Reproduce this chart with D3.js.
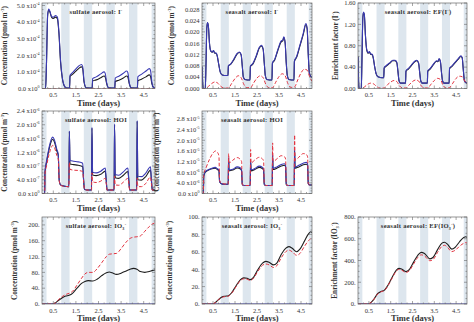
<!DOCTYPE html>
<html>
<head>
<meta charset="utf-8">
<script src="https://cdn.jsdelivr.net/npm/d3@7"></script>
<style>
  body { margin: 0; background: #fff; }
  svg { display: block; }
  text { font-family: "Liberation Serif", "DejaVu Serif", serif; fill: #333; }
</style>
</head>
<body>
<svg id="chart" width="474" height="322"></svg>
<script>
// night periods (shaded) and x labels, shared by all panels
const nights = [[0, 0.2], [0.85, 1.22], [1.85, 2.22], [2.85, 3.22], [3.85, 4.22], [4.85, 5]];
const dayTicks = [0.5, 1.5, 2.5, 3.5, 4.5];

// --- sulfate aerosol: I- (pmol m-3)
const sulfI_black = [[0,0],[0.16,0],[0.2,1.6e-4],[0.25,4.4e-4],[0.3,4.72e-4],[0.35,4.6e-4],[0.42,4.3e-4],[0.5,4.22e-4],[0.6,4.3e-4],[0.68,4.2e-4],[0.75,3.3e-4],[0.82,1.6e-4],[0.9,0.6e-4],[1.0,0.12e-4],[1.1,0.02e-4],[1.22,0.02e-4],[1.24,0.72e-4],[1.35,0.85e-4],[1.5,1.05e-4],[1.62,1.2e-4],[1.75,1.3e-4],[1.8,1.2e-4],[1.86,0.4e-4],[1.95,0.05e-4],[2.22,0.02e-4],[2.24,0.45e-4],[2.4,0.52e-4],[2.6,0.65e-4],[2.75,0.75e-4],[2.8,0.68e-4],[2.86,0.3e-4],[2.95,0.04e-4],[3.22,0.02e-4],[3.24,0.42e-4],[3.4,0.5e-4],[3.6,0.63e-4],[3.75,0.75e-4],[3.8,0.68e-4],[3.86,0.3e-4],[3.95,0.04e-4],[4.22,0.02e-4],[4.24,0.46e-4],[4.4,0.56e-4],[4.6,0.7e-4],[4.75,0.82e-4],[4.8,0.74e-4],[4.86,0.3e-4],[4.95,0.04e-4],[5.0,0.02e-4]];
const sulfI_blue = [[0,0],[0.16,0],[0.2,1.6e-4],[0.25,4.45e-4],[0.3,4.78e-4],[0.35,4.65e-4],[0.42,4.35e-4],[0.5,4.3e-4],[0.6,4.4e-4],[0.68,4.3e-4],[0.75,3.4e-4],[0.82,1.7e-4],[0.9,0.65e-4],[1.0,0.14e-4],[1.1,0.02e-4],[1.22,0.02e-4],[1.24,0.8e-4],[1.35,0.95e-4],[1.5,1.18e-4],[1.62,1.35e-4],[1.75,1.45e-4],[1.8,1.32e-4],[1.86,0.45e-4],[1.95,0.05e-4],[2.22,0.02e-4],[2.24,0.6e-4],[2.4,0.7e-4],[2.6,0.88e-4],[2.75,1.0e-4],[2.8,0.9e-4],[2.86,0.35e-4],[2.95,0.04e-4],[3.22,0.02e-4],[3.24,0.62e-4],[3.4,0.74e-4],[3.6,0.92e-4],[3.75,1.05e-4],[3.8,0.95e-4],[3.86,0.35e-4],[3.95,0.04e-4],[4.22,0.02e-4],[4.24,0.7e-4],[4.4,0.85e-4],[4.6,1.05e-4],[4.75,1.2e-4],[4.8,1.1e-4],[4.86,0.4e-4],[4.95,0.04e-4],[5.0,0.02e-4]];
const sulfI_red = [[0,0],[5,0]];

// --- seasalt aerosol: I- (pmol m-3)
const ssI_black = [[0,0.0078],[0.03,0.002],[0.05,0],[0.15,0],[0.18,0.008],[0.22,0.0215],[0.25,0.0232],[0.29,0.022],[0.34,0.016],[0.4,0.0132],[0.47,0.0128],[0.52,0.0133],[0.58,0.0125],[0.65,0.0124],[0.7,0.0112],[0.76,0.0085],[0.83,0.0058],[0.92,0.0048],[1.1,0.0046],[1.18,0.0046],[1.2,0.008],[1.3,0.0085],[1.45,0.0102],[1.6,0.0122],[1.7,0.0127],[1.78,0.0118],[1.83,0.008],[1.88,0.004],[1.95,0.0032],[2.18,0.003],[2.2,0.0078],[2.3,0.0085],[2.45,0.011],[2.6,0.0142],[2.7,0.015],[2.78,0.0138],[2.83,0.009],[2.88,0.0045],[2.95,0.0032],[3.18,0.003],[3.2,0.0088],[3.3,0.01],[3.45,0.0135],[3.6,0.0165],[3.67,0.0168],[3.72,0.018],[3.78,0.016],[3.83,0.009],[3.88,0.0045],[3.95,0.0032],[4.18,0.003],[4.2,0.0095],[4.3,0.011],[4.45,0.015],[4.6,0.019],[4.72,0.0225],[4.78,0.021],[4.83,0.012],[4.88,0.0055],[4.95,0.0042],[5,0.004]];
const ssI_blue = [[0,0.0078],[0.03,0.002],[0.05,0],[0.15,0],[0.18,0.008],[0.22,0.0215],[0.25,0.0233],[0.29,0.0221],[0.34,0.016],[0.4,0.0133],[0.47,0.0129],[0.52,0.0134],[0.58,0.0126],[0.65,0.0125],[0.7,0.0113],[0.76,0.0086],[0.83,0.0058],[0.92,0.0048],[1.1,0.0046],[1.18,0.0046],[1.2,0.0081],[1.3,0.0086],[1.45,0.0104],[1.6,0.0124],[1.7,0.0129],[1.78,0.012],[1.83,0.008],[1.88,0.004],[1.95,0.0032],[2.18,0.003],[2.2,0.0079],[2.3,0.0087],[2.45,0.0112],[2.6,0.0145],[2.7,0.0153],[2.78,0.014],[2.83,0.009],[2.88,0.0045],[2.95,0.0032],[3.18,0.003],[3.2,0.009],[3.3,0.0102],[3.45,0.0138],[3.6,0.0168],[3.67,0.0171],[3.72,0.0183],[3.78,0.0162],[3.83,0.009],[3.88,0.0045],[3.95,0.0032],[4.18,0.003],[4.2,0.0097],[4.3,0.0113],[4.45,0.0153],[4.6,0.0194],[4.72,0.0229],[4.78,0.0213],[4.83,0.012],[4.88,0.0055],[4.95,0.0042],[5,0.004]];
const ssI_red = [[0,0],[0.15,0],[0.3,0.0008],[0.45,0.0018],[0.58,0.0023],[0.7,0.002],[0.85,0.0008],[1.0,0.0001],[1.2,0.0002],[1.35,0.0018],[1.5,0.0035],[1.65,0.0045],[1.78,0.0038],[1.9,0.0015],[2.05,0.0003],[2.2,0.0003],[2.35,0.002],[2.5,0.0037],[2.65,0.0045],[2.78,0.0038],[2.9,0.0015],[3.05,0.0003],[3.2,0.0003],[3.35,0.0022],[3.5,0.0042],[3.65,0.0052],[3.78,0.0045],[3.9,0.0018],[4.05,0.0004],[4.2,0.0005],[4.35,0.003],[4.5,0.0055],[4.65,0.0068],[4.78,0.0065],[4.9,0.004],[5,0.0025]];

// --- seasalt aerosol: EF(I-)
const efI_black = [[0,0.6],[0.03,0.1],[0.05,0],[0.15,0],[0.18,0.5],[0.22,1.3],[0.25,1.42],[0.29,1.38],[0.34,1.0],[0.4,0.72],[0.47,0.66],[0.52,0.68],[0.58,0.64],[0.65,0.63],[0.7,0.57],[0.76,0.42],[0.83,0.28],[0.92,0.22],[1.1,0.2],[1.18,0.2],[1.2,0.38],[1.3,0.42],[1.45,0.47],[1.6,0.52],[1.7,0.52],[1.78,0.48],[1.83,0.33],[1.88,0.15],[1.95,0.1],[2.18,0.1],[2.2,0.32],[2.3,0.36],[2.45,0.43],[2.6,0.5],[2.7,0.52],[2.78,0.47],[2.83,0.3],[2.88,0.14],[2.95,0.1],[3.18,0.1],[3.2,0.32],[3.3,0.36],[3.45,0.44],[3.6,0.51],[3.67,0.5],[3.72,0.55],[3.78,0.5],[3.83,0.3],[3.88,0.14],[3.95,0.1],[4.18,0.1],[4.2,0.37],[4.3,0.41],[4.45,0.48],[4.6,0.55],[4.72,0.6],[4.78,0.57],[4.83,0.35],[4.88,0.15],[4.95,0.11],[5,0.1]];
const efI_blue = [[0,0.6],[0.03,0.1],[0.05,0],[0.15,0],[0.18,0.5],[0.22,1.3],[0.25,1.43],[0.29,1.39],[0.34,1.0],[0.4,0.73],[0.47,0.67],[0.52,0.69],[0.58,0.65],[0.65,0.64],[0.7,0.58],[0.76,0.42],[0.83,0.28],[0.92,0.22],[1.1,0.2],[1.18,0.2],[1.2,0.39],[1.3,0.43],[1.45,0.48],[1.6,0.53],[1.7,0.53],[1.78,0.49],[1.83,0.33],[1.88,0.15],[1.95,0.1],[2.18,0.1],[2.2,0.33],[2.3,0.37],[2.45,0.44],[2.6,0.51],[2.7,0.53],[2.78,0.48],[2.83,0.3],[2.88,0.14],[2.95,0.1],[3.18,0.1],[3.2,0.33],[3.3,0.37],[3.45,0.45],[3.6,0.52],[3.67,0.51],[3.72,0.56],[3.78,0.51],[3.83,0.3],[3.88,0.14],[3.95,0.1],[4.18,0.1],[4.2,0.38],[4.3,0.42],[4.45,0.49],[4.6,0.56],[4.72,0.61],[4.78,0.58],[4.83,0.35],[4.88,0.15],[4.95,0.11],[5,0.1]];
const efI_red = [[0,0],[0.15,0],[0.3,0.03],[0.45,0.08],[0.58,0.1],[0.7,0.09],[0.85,0.04],[1.0,0.005],[1.2,0.01],[1.35,0.07],[1.5,0.12],[1.65,0.15],[1.78,0.13],[1.9,0.05],[2.05,0.01],[2.2,0.01],[2.35,0.07],[2.5,0.13],[2.65,0.16],[2.78,0.14],[2.9,0.05],[3.05,0.01],[3.2,0.01],[3.35,0.08],[3.5,0.15],[3.65,0.19],[3.78,0.17],[3.9,0.06],[4.05,0.01],[4.2,0.02],[4.35,0.1],[4.5,0.19],[4.65,0.23],[4.78,0.22],[4.9,0.14],[5,0.09]];

// --- sulfate aerosol: HOI (pmol m-3)
const sulfHOI_black = [[0,0],[0.12,0],[0.13,6e-7],[0.2,9e-7],[0.3,12.5e-7],[0.4,15e-7],[0.47,15.8e-7],[0.55,15e-7],[0.65,12.5e-7],[0.72,11e-7],[0.76,4e-7],[0.82,2.5e-7],[0.95,2.2e-7],[1.19,2e-7],[1.21,18e-7],[1.24,8.6e-7],[1.4,8.4e-7],[1.6,8.2e-7],[1.8,7.8e-7],[1.84,4e-7],[1.88,1.2e-7],[2.0,1e-7],[2.19,1e-7],[2.21,19e-7],[2.24,5.4e-7],[2.4,5.2e-7],[2.6,5.6e-7],[2.8,6.5e-7],[2.84,4e-7],[2.88,1e-7],[3.19,1e-7],[3.21,20e-7],[3.24,4.6e-7],[3.4,4.4e-7],[3.6,5.3e-7],[3.8,6.4e-7],[3.84,4e-7],[3.88,1e-7],[4.19,1e-7],[4.21,21e-7],[4.24,4e-7],[4.4,3.9e-7],[4.6,5e-7],[4.8,6.8e-7],[4.84,4e-7],[4.88,1e-7],[5,1e-7]];
const sulfHOI_blue = [[0,0],[0.12,0],[0.13,6.3e-7],[0.2,9.4e-7],[0.3,13e-7],[0.4,15.6e-7],[0.47,16.4e-7],[0.55,15.6e-7],[0.65,13e-7],[0.72,11.4e-7],[0.76,4e-7],[0.82,2.5e-7],[0.95,2.2e-7],[1.19,2e-7],[1.21,18.2e-7],[1.24,9.6e-7],[1.4,9.4e-7],[1.6,9.2e-7],[1.8,8.8e-7],[1.84,4e-7],[1.88,1.2e-7],[2.0,1e-7],[2.19,1e-7],[2.21,19.2e-7],[2.24,6.2e-7],[2.4,6e-7],[2.6,6.5e-7],[2.8,7.4e-7],[2.84,4e-7],[2.88,1e-7],[3.19,1e-7],[3.21,20.2e-7],[3.24,5.5e-7],[3.4,5.3e-7],[3.6,6.3e-7],[3.8,7.4e-7],[3.84,4e-7],[3.88,1e-7],[4.19,1e-7],[4.21,21.2e-7],[4.24,5e-7],[4.4,4.9e-7],[4.6,6e-7],[4.8,7.8e-7],[4.84,4e-7],[4.88,1e-7],[5,1e-7]];
const sulfHOI_red = [[0,0],[0.12,0],[0.13,5.5e-7],[0.2,8e-7],[0.3,11e-7],[0.4,13.2e-7],[0.47,14e-7],[0.55,13.4e-7],[0.65,11.2e-7],[0.72,10e-7],[0.76,3.8e-7],[0.82,2.4e-7],[0.95,2.1e-7],[1.19,2e-7],[1.21,9e-7],[1.24,7e-7],[1.4,6.8e-7],[1.6,6.7e-7],[1.8,6.4e-7],[1.84,3.5e-7],[1.88,1.2e-7],[2.0,1e-7],[2.19,1e-7],[2.21,6e-7],[2.24,3.4e-7],[2.4,3.2e-7],[2.6,3.6e-7],[2.8,4.4e-7],[2.84,3e-7],[2.88,1e-7],[3.19,1e-7],[3.21,5e-7],[3.24,2.5e-7],[3.4,2.4e-7],[3.6,3.3e-7],[3.8,4.4e-7],[3.84,3e-7],[3.88,1e-7],[4.19,1e-7],[4.21,4.5e-7],[4.24,2e-7],[4.4,2e-7],[4.6,3e-7],[4.8,4.8e-7],[4.84,3e-7],[4.88,1e-7],[5,1e-7]];

// --- seasalt aerosol: HOI (pmol m-3)
const ssHOI_black = [[0,0],[0.06,0],[0.08,6.5e-6],[0.15,8e-6],[0.3,8.8e-6],[0.45,9.3e-6],[0.6,9.5e-6],[0.7,9e-6],[0.77,8.5e-6],[0.8,4.5e-6],[0.86,3.8e-6],[1.0,3.5e-6],[1.19,3.5e-6],[1.21,13e-6],[1.23,8.5e-6],[1.4,8.8e-6],[1.6,9.6e-6],[1.75,9.2e-6],[1.8,8.5e-6],[1.83,3.5e-6],[1.9,3e-6],[2.19,3e-6],[2.21,12e-6],[2.23,8.5e-6],[2.4,9e-6],[2.6,9.8e-6],[2.75,9.3e-6],[2.8,8.8e-6],[2.83,3.5e-6],[2.9,3e-6],[3.19,3e-6],[3.21,14e-6],[3.23,9e-6],[3.4,9.5e-6],[3.6,10.3e-6],[3.75,10.6e-6],[3.8,10e-6],[3.83,3.5e-6],[3.9,3e-6],[4.19,3e-6],[4.21,16e-6],[4.23,9.5e-6],[4.4,10e-6],[4.6,10.8e-6],[4.75,11e-6],[4.8,10.5e-6],[4.83,3.8e-6],[4.9,3.2e-6],[5,3.2e-6]];
const ssHOI_blue = [[0,0],[0.06,0],[0.08,6.6e-6],[0.15,8.2e-6],[0.3,9e-6],[0.45,9.5e-6],[0.6,9.8e-6],[0.7,9.3e-6],[0.77,8.8e-6],[0.8,4.5e-6],[0.86,3.8e-6],[1.0,3.5e-6],[1.19,3.5e-6],[1.21,13.5e-6],[1.23,8.8e-6],[1.4,9.1e-6],[1.6,10e-6],[1.75,9.6e-6],[1.8,8.9e-6],[1.83,3.5e-6],[1.9,3e-6],[2.19,3e-6],[2.21,12.5e-6],[2.23,8.9e-6],[2.4,9.4e-6],[2.6,10.3e-6],[2.75,9.8e-6],[2.8,9.2e-6],[2.83,3.5e-6],[2.9,3e-6],[3.19,3e-6],[3.21,14.5e-6],[3.23,9.5e-6],[3.4,10e-6],[3.6,10.9e-6],[3.75,11.2e-6],[3.8,10.6e-6],[3.83,3.5e-6],[3.9,3e-6],[4.19,3e-6],[4.21,16.5e-6],[4.23,10e-6],[4.4,10.6e-6],[4.6,11.4e-6],[4.75,11.7e-6],[4.8,11.1e-6],[4.83,3.8e-6],[4.9,3.2e-6],[5,3.2e-6]];
const ssHOI_red = [[0,0],[0.06,0],[0.08,7e-6],[0.2,10e-6],[0.35,13e-6],[0.5,15.2e-6],[0.62,16e-6],[0.7,15.5e-6],[0.77,14e-6],[0.8,5e-6],[0.86,4e-6],[1.0,3.6e-6],[1.19,3.5e-6],[1.21,15e-6],[1.23,11.5e-6],[1.4,12.5e-6],[1.6,13.5e-6],[1.72,13e-6],[1.8,12e-6],[1.83,3.5e-6],[1.9,3e-6],[2.19,3e-6],[2.21,16.5e-6],[2.23,11.5e-6],[2.4,12.6e-6],[2.6,13.6e-6],[2.72,13.2e-6],[2.8,12.2e-6],[2.83,3.5e-6],[2.9,3e-6],[3.19,3e-6],[3.21,19e-6],[3.23,12e-6],[3.4,13e-6],[3.6,14.2e-6],[3.72,14e-6],[3.8,13e-6],[3.83,3.5e-6],[3.9,3e-6],[4.19,3e-6],[4.21,22e-6],[4.23,12.5e-6],[4.4,13.6e-6],[4.6,15e-6],[4.72,14.8e-6],[4.8,13.8e-6],[4.83,3.8e-6],[4.9,3.2e-6],[5,3.2e-6]];

// --- sulfate aerosol: IO3- (pmol m-3)
const sulfIO3_black = [[0,0],[0.45,0],[0.6,3],[0.75,10],[0.9,16],[1.05,20],[1.2,22],[1.35,27],[1.55,40],[1.75,52],[1.9,57],[2.05,59],[2.25,58],[2.45,63],[2.65,72],[2.85,79],[2.98,81],[3.1,79],[3.3,75],[3.5,78],[3.7,83],[3.9,88],[4.05,90],[4.2,88],[4.35,82],[4.55,80],[4.75,82],[4.9,85],[5,86]];
const sulfIO3_blue = [[0,0],[5,0]];
const sulfIO3_red = [[0,0],[0.45,0],[0.6,3],[0.75,12],[0.9,19],[1.05,24],[1.2,27],[1.35,32],[1.55,48],[1.75,65],[1.9,76],[2.05,80],[2.25,80],[2.45,90],[2.65,105],[2.85,120],[2.98,126],[3.15,127],[3.3,128],[3.5,140],[3.7,155],[3.9,166],[4.05,169],[4.2,170],[4.35,172],[4.55,184],[4.75,196],[4.9,203],[5,205]];

// --- seasalt aerosol: IO3- (pmol m-3)
const ssIO3_black = [[0,0],[0.45,0],[0.6,1.5],[0.75,5],[0.9,8],[1.05,9],[1.2,9.5],[1.35,13],[1.55,21],[1.75,28],[1.9,30],[2.05,29.5],[2.2,28],[2.35,31],[2.55,40],[2.75,47],[2.9,49],[3.05,48],[3.25,45],[3.4,47],[3.6,57],[3.8,64],[3.95,66],[4.1,64],[4.3,60],[4.45,63],[4.65,72],[4.85,81],[4.95,83],[5,82]];
const ssIO3_blue = [[0,0],[5,0]];
const ssIO3_red = [[0,0],[0.45,0],[0.6,1.5],[0.75,5],[0.9,7.5],[1.05,8.5],[1.2,9],[1.35,12.5],[1.55,20],[1.75,27],[1.9,29],[2.05,28.5],[2.2,27],[2.35,30],[2.55,38],[2.75,44.5],[2.9,46],[3.05,45],[3.25,42],[3.4,44],[3.6,53],[3.8,60],[3.95,62],[4.1,60],[4.3,56],[4.45,58],[4.65,66],[4.85,73],[4.95,75],[5,74]];

// --- seasalt aerosol: EF(IO3-)
const efIO3_black = [[0,0],[0.45,0],[0.6,15],[0.75,50],[0.9,95],[1.05,115],[1.2,125],[1.35,165],[1.55,240],[1.75,310],[1.88,328],[2.0,322],[2.2,298],[2.35,315],[2.55,385],[2.75,450],[2.9,475],[3.05,465],[3.3,415],[3.45,430],[3.65,500],[3.85,560],[3.97,568],[4.1,550],[4.3,505],[4.45,520],[4.65,570],[4.85,612],[4.95,618],[5,612]];
const efIO3_blue = [[0,0],[5,0]];
const efIO3_red = [[0,0],[0.45,0],[0.6,14],[0.75,48],[0.9,92],[1.05,112],[1.2,122],[1.35,160],[1.55,232],[1.75,300],[1.88,318],[2.0,312],[2.2,290],[2.35,305],[2.55,368],[2.75,430],[2.9,452],[3.05,442],[3.3,398],[3.45,410],[3.65,475],[3.85,530],[3.97,540],[4.1,522],[4.3,482],[4.45,493],[4.65,530],[4.85,558],[4.95,565],[5,560]];

// y ticks per panel
const sulfI_ticks = [0, 1e-4, 2e-4, 3e-4, 4e-4, 5e-4];
const ssI_ticks = [0, 0.004, 0.008, 0.012, 0.016, 0.020, 0.024, 0.028];
const efI_ticks = [0, 0.4, 0.8, 1.2, 1.6];
const sulfHOI_ticks = [0, 4e-7, 8e-7, 1.2e-6, 1.6e-6, 2.0e-6, 2.4e-6];
const ssHOI_ticks = [0, 4e-6, 8e-6, 1.2e-5, 1.6e-5, 2.0e-5, 2.4e-5, 2.8e-5];
const sulfIO3_ticks = [0, 40, 80, 120, 160, 200];
const ssIO3_ticks = [0, 20, 40, 60, 80, 100];
const efIO3_ticks = [0, 200, 400, 600, 800];

const cols = [[42, 155], [202, 312], [358, 467]];
const rows = [[3, 88.5], [111, 193.5], [217, 304]];
const colTitleX = [96, 252, 418];
const BLACK = '#1e1e1e', BLUE = '#3a3ab4', RED = '#e2323f', BAND = '#dde6ee';

const sup = s => ({ t: s, sup: true });
const sub = s => ({ t: s, sub: true });
const concLabel = ['Concentration (pmol m', sup('-3'), ')'];

function sciFmt(v) {
  if (v === 0) return ['0.0 x10', sup('0')];
  const e = Math.floor(Math.log10(v) + 1e-9);
  return [(v / Math.pow(10, e)).toFixed(1) + ' x10', sup(String(e))];
}
const dotFmt = v => [v + '.'];

const panels = [
  { c: 0, r: 0, ymax: 5.15e-4, ticks: sulfI_ticks, fmt: sciFmt, ylx: 7, ylabel: concLabel,
    title: ['sulfate aerosol: I', sup('-')], s: [sulfI_black, sulfI_blue, sulfI_red] },
  { c: 1, r: 0, ymax: 0.0302, ticks: ssI_ticks, fmt: v => [v.toFixed(3)], ylx: 174, ylabel: concLabel,
    title: ['seasalt aerosol: I', sup('-')], s: [ssI_black, ssI_blue, ssI_red] },
  { c: 2, r: 0, ymax: 1.6, ticks: efI_ticks, fmt: v => [v.toFixed(2)], ylx: 338, ylabel: ['Enrichment factor (I', sup('-'), ')'],
    title: ['seasalt aerosol: EF(I', sup('-'), ')'], s: [efI_black, efI_blue, efI_red] },
  { c: 0, r: 1, ymax: 2.4e-6, ticks: sulfHOI_ticks, fmt: sciFmt, ylx: 7, ylabel: concLabel,
    title: ['sulfate aerosol: HOI'], s: [sulfHOI_black, sulfHOI_blue, sulfHOI_red] },
  { c: 1, r: 1, ymax: 3.1e-5, ticks: ssHOI_ticks, fmt: sciFmt, ylx: 159, ylabel: concLabel,
    title: ['seasalt aerosol: HOI'], s: [ssHOI_black, ssHOI_blue, ssHOI_red] },
  { c: 0, r: 2, ymax: 220, ticks: sulfIO3_ticks, fmt: dotFmt, ylx: 17, ylabel: concLabel,
    title: ['sulfate aerosol: IO', sub('3'), sup('-')], s: [sulfIO3_black, sulfIO3_blue, sulfIO3_red] },
  { c: 1, r: 2, ymax: 100, ticks: ssIO3_ticks, fmt: dotFmt, ylx: 172, ylabel: concLabel,
    title: ['seasalt aerosol: IO', sub('3'), sup('-')], s: [ssIO3_black, ssIO3_blue, ssIO3_red] },
  { c: 2, r: 2, ymax: 800, ticks: efIO3_ticks, fmt: dotFmt, ylx: 337, ylabel: ['Enrichment factor (IO', sub('3'), sup('-'), ')'],
    title: ['seasalt aerosol: EF(IO', sub('3'), sup('-'), ')'], s: [efIO3_black, efIO3_blue, efIO3_red] }
];

const svg = d3.select('#chart');

// write mixed text with super/subscripts as tspans
function rich(textSel, parts, size) {
  let shift = 0;
  parts.forEach(p => {
    const part = typeof p === 'string' ? { t: p } : p;
    const target = part.sup ? -size * 0.4 : part.sub ? size * 0.25 : 0;
    const ts = textSel.append('tspan').text(part.t).attr('dy', target - shift);
    if (part.sup || part.sub) ts.style('font-size', (size * 0.62) + 'px');
    shift = target;
  });
}

panels.forEach((p, i) => {
  const [x0, x1] = cols[p.c];
  const [y0, y1] = rows[p.r];
  const x = d3.scaleLinear().domain([0, 5]).range([x0, x1]);
  const y = d3.scaleLinear().domain([0, p.ymax]).range([y1, y0]);
  const g = svg.append('g');

  g.append('clipPath').attr('id', 'clip' + i)
    .append('rect').attr('x', x0).attr('y', y0).attr('width', x1 - x0).attr('height', y1 - y0);

  // night bands
  g.selectAll('rect.band').data(nights).enter().append('rect')
    .attr('class', 'band')
    .attr('x', d => x(d[0])).attr('width', d => x(d[1]) - x(d[0]))
    .attr('y', y0).attr('height', y1 - y0)
    .attr('fill', BAND);

  // series
  const line = d3.line().x(d => x(d[0])).y(d => y(d[1])).curve(d3.curveMonotoneX);
  const styles = [
    { color: BLACK, dash: null, w: 1.1 },
    { color: BLUE, dash: null, w: 1.1 },
    { color: RED, dash: '3.5,2', w: 1 }
  ];
  const lines = g.append('g').attr('clip-path', 'url(#clip' + i + ')');
  p.s.forEach((data, k) => {
    lines.append('path').datum(data)
      .attr('d', line)
      .attr('fill', 'none')
      .attr('stroke', styles[k].color)
      .attr('stroke-width', styles[k].w)
      .attr('stroke-dasharray', styles[k].dash);
  });

  // frame
  g.append('rect').attr('x', x0).attr('y', y0).attr('width', x1 - x0).attr('height', y1 - y0)
    .attr('fill', 'none').attr('stroke', '#6a6a6a').attr('stroke-width', 0.7);

  // ticks, inward on all four sides
  const tk = g.append('g').attr('stroke', '#6a6a6a').attr('stroke-width', 0.6);
  const minorX = d3.range(0.25, 5, 0.25).filter(v => !dayTicks.includes(v));
  dayTicks.forEach(v => {
    tk.append('line').attr('x1', x(v)).attr('x2', x(v)).attr('y1', y1).attr('y2', y1 - 3);
    tk.append('line').attr('x1', x(v)).attr('x2', x(v)).attr('y1', y0).attr('y2', y0 + 3);
  });
  minorX.forEach(v => {
    tk.append('line').attr('x1', x(v)).attr('x2', x(v)).attr('y1', y1).attr('y2', y1 - 1.5);
    tk.append('line').attr('x1', x(v)).attr('x2', x(v)).attr('y1', y0).attr('y2', y0 + 1.5);
  });
  const step = p.ticks[1] - p.ticks[0];
  const minorY = [];
  for (let v = step / 4; v < p.ymax; v += step / 4) {
    if (Math.abs(v / step - Math.round(v / step)) > 1e-6) minorY.push(v);
  }
  p.ticks.forEach(v => {
    tk.append('line').attr('x1', x0).attr('x2', x0 + 3).attr('y1', y(v)).attr('y2', y(v));
    tk.append('line').attr('x1', x1).attr('x2', x1 - 3).attr('y1', y(v)).attr('y2', y(v));
  });
  minorY.forEach(v => {
    tk.append('line').attr('x1', x0).attr('x2', x0 + 1.5).attr('y1', y(v)).attr('y2', y(v));
    tk.append('line').attr('x1', x1).attr('x2', x1 - 1.5).attr('y1', y(v)).attr('y2', y(v));
  });

  // tick labels
  dayTicks.forEach(v => {
    g.append('text').attr('x', x(v)).attr('y', y1 + 8.5)
      .attr('text-anchor', 'middle').style('font-size', '6.5px').text(v.toFixed(1));
  });
  p.ticks.forEach(v => {
    const t = g.append('text').attr('x', x0 - 2.5).attr('y', y(v) + 2.3)
      .attr('text-anchor', 'end').style('font-size', '6.5px');
    rich(t, p.fmt(v), 6.5);
  });

  // axis titles
  g.append('text').attr('x', (x0 + x1) / 2).attr('y', y1 + 17)
    .attr('text-anchor', 'middle').style('font-size', '8.5px').style('font-weight', 'bold')
    .text('Time (days)');
  const yl = g.append('text')
    .attr('transform', 'translate(' + p.ylx + ',' + ((y0 + y1) / 2) + ') rotate(-90)')
    .attr('text-anchor', 'middle').attr('dy', '0.35em')
    .style('font-size', '7.3px').style('font-weight', 'bold');
  rich(yl, p.ylabel, 7.3);

  // panel title
  const tt = g.append('text').attr('x', colTitleX[p.c]).attr('y', y0 + 11)
    .attr('text-anchor', 'middle').style('font-size', '6.6px').style('font-weight', 'bold')
    .style('letter-spacing', '0.25px');
  rich(tt, p.title, 6.6);
});
</script>
</body>
</html>
